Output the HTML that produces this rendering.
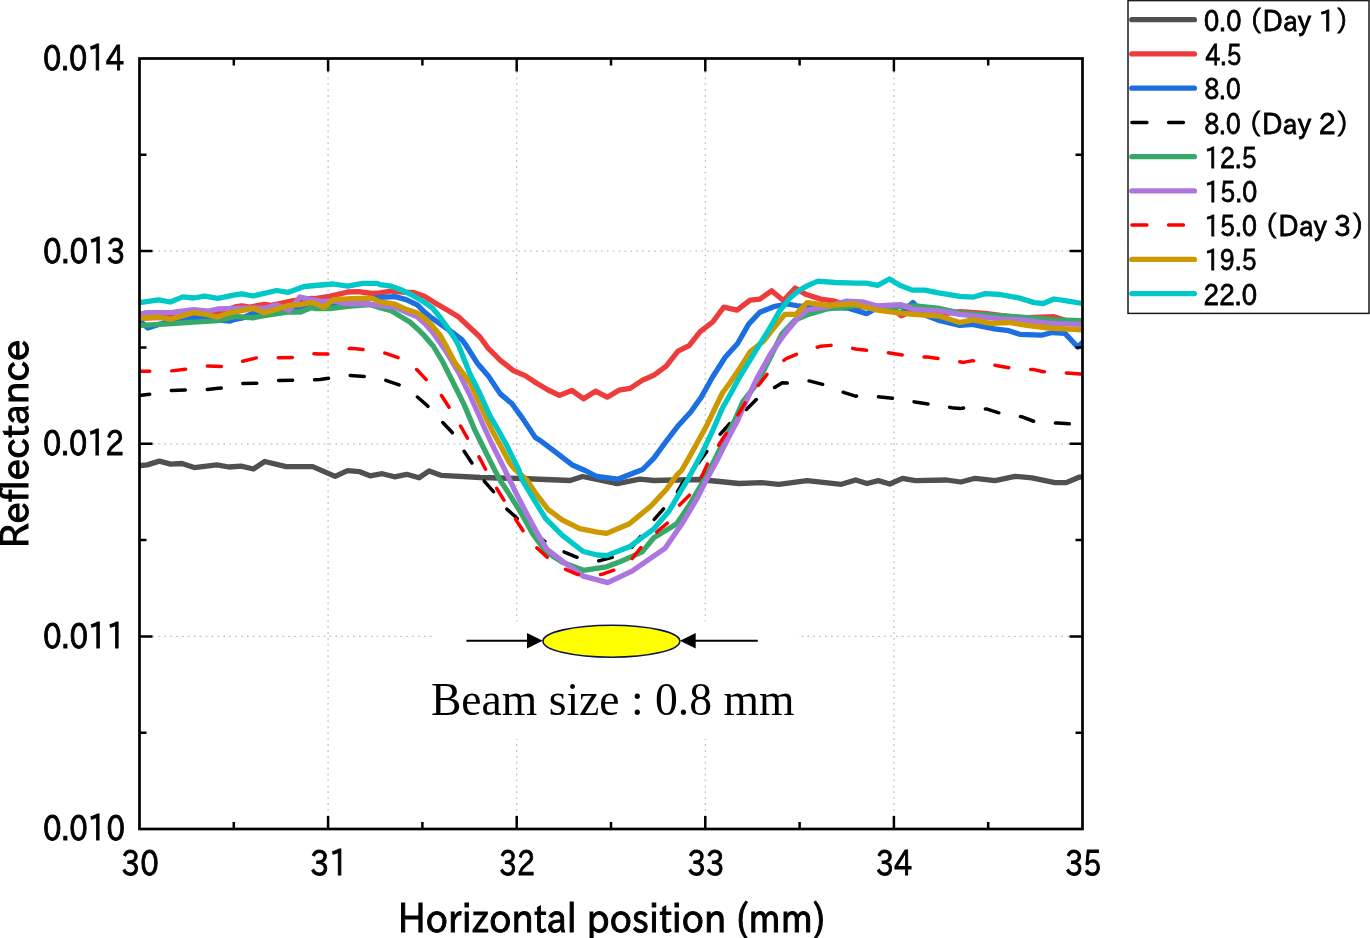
<!DOCTYPE html><html><head><meta charset="utf-8"><title>Reflectance vs horizontal position</title>
<style>html,body{margin:0;padding:0;background:#fff;width:1370px;height:938px;overflow:hidden}svg{display:block}text{font-family:'IPAPGothic','IPAGothic','Liberation Sans',sans-serif}</style></head><body>
<svg width="1370" height="938" viewBox="0 0 1370 938">
<rect width="1370" height="938" fill="#fff"/>
<defs><clipPath id="pc"><rect x="139.5" y="58.5" width="943.0" height="770.5"/></clipPath></defs>
<path d="M328.1 71.5V816.0M516.7 71.5V816.0M705.3 71.5V816.0M893.9 71.5V816.0M152.5 636.4H1069.5M152.5 443.8H1069.5M152.5 251.1H1069.5" stroke="#c2c2c2" stroke-width="1.3" stroke-dasharray="1.8 4.1" fill="none"/>
<g clip-path="url(#pc)" fill="none" stroke-linejoin="round">
<path d="M139.5 465.8 L141.0 465.5 L147.2 464.9 L159.4 461.1 L170.7 464.1 L181.9 463.5 L194.2 467.6 L216.7 464.9 L228.9 467.0 L241.2 466.2 L253.4 469.0 L264.7 461.5 L286.1 466.6 L312.7 466.6 L335.2 476.4 L347.5 470.7 L359.7 471.7 L370.0 475.8 L382.2 473.7 L394.5 476.8 L406.7 474.3 L419.0 477.8 L429.2 470.9 L441.5 475.4 L480.3 477.5 L521.2 478.5 L570.2 480.5 L582.5 476.5 L617.2 483.6 L639.7 479.1 L654.0 480.5 L699.0 479.5 L724.6 482.0 L738.9 483.5 L761.6 482.6 L778.7 484.3 L807.2 480.6 L841.3 484.3 L855.6 480.0 L867.0 483.5 L878.3 480.6 L889.7 484.0 L902.5 478.3 L915.3 480.6 L946.7 480.0 L960.9 482.0 L975.1 478.3 L995.0 480.6 L1015.0 476.3 L1032.0 477.8 L1054.8 482.6 L1066.2 482.6 L1079.0 477.2 L1082.5 477.0" stroke="#505050" stroke-width="5.3" stroke-linecap="round"/>
<path d="M139.5 318.0 L160.0 317.5 L190.0 316.6 L208.0 316.6 L217.8 313.0 L235.0 306.9 L241.6 305.8 L250.0 307.0 L264.2 304.3 L271.5 305.4 L293.4 300.7 L311.6 298.5 L315.0 298.6 L329.6 296.4 L347.8 292.0 L358.8 291.7 L371.9 293.5 L380.0 292.9 L391.2 291.0 L402.4 292.2 L413.6 292.4 L424.8 296.6 L436.0 303.4 L447.2 310.1 L458.4 316.8 L469.6 327.2 L480.0 337.0 L487.8 347.8 L500.3 360.3 L513.7 370.8 L525.2 375.6 L536.7 383.3 L548.2 390.0 L559.4 395.4 L571.9 390.5 L583.7 398.8 L595.5 391.2 L607.2 397.2 L619.0 390.2 L630.1 388.4 L642.6 380.1 L653.7 375.3 L666.2 366.2 L678.0 351.1 L689.1 345.6 L700.2 331.7 L712.7 322.0 L723.8 307.2 L737.0 310.2 L750.1 300.2 L759.8 299.1 L771.6 290.8 L783.4 300.5 L795.2 288.0 L805.6 294.3 L820.8 299.1 L834.7 301.2 L855.5 306.7 L877.6 307.4 L888.7 305.4 L901.2 315.8 L910.9 311.6 L938.6 314.4 L959.9 311.7 L985.0 313.5 L1020.0 318.0 L1054.1 316.7 L1066.0 320.5 L1082.5 324.0" stroke="#ee3b3b" stroke-width="5.3" stroke-linecap="round"/>
<path d="M139.5 322.0 L141.2 322.1 L147.8 328.0 L168.2 321.4 L193.7 317.7 L208.0 319.0 L230.2 321.0 L235.0 319.3 L241.6 318.2 L253.2 313.1 L265.0 313.5 L280.0 311.5 L297.0 308.4 L311.0 306.0 L320.0 303.5 L335.4 303.4 L355.0 301.0 L377.0 297.5 L380.0 297.4 L394.9 296.6 L406.1 299.6 L417.3 304.9 L424.8 312.3 L432.2 318.3 L439.7 323.5 L447.2 328.7 L454.6 334.0 L462.1 339.9 L465.8 345.0 L477.3 363.2 L488.8 376.6 L500.3 393.9 L511.8 403.5 L522.6 418.4 L535.4 437.6 L540.0 440.4 L556.6 452.9 L571.9 464.7 L584.4 470.2 L596.8 476.5 L617.6 479.2 L642.6 469.5 L653.7 458.4 L664.8 443.2 L678.6 425.2 L690.7 412.0 L701.3 397.1 L712.7 376.8 L725.2 357.3 L737.6 343.5 L748.7 324.1 L759.8 312.3 L773.7 306.7 L787.6 304.0 L798.7 306.0 L812.5 307.4 L848.5 308.1 L866.6 313.7 L877.6 307.5 L901.0 313.0 L913.0 302.6 L925.0 315.0 L940.0 320.7 L959.9 325.3 L972.6 324.3 L994.3 328.9 L1008.8 330.7 L1019.7 334.3 L1041.4 335.2 L1052.3 332.5 L1065.0 333.4 L1077.7 347.0 L1082.5 342.5" stroke="#1b6fe0" stroke-width="5.3" stroke-linecap="round"/>
<path d="M139.5 395.5 L141.2 395.3 L152.1 394.0 L169.7 390.6 L187.2 389.8 L206.2 389.5 L216.0 388.5 L221.5 388.0 L241.2 383.6 L258.0 383.2 L277.0 380.5 L293.7 380.2 L312.7 379.8 L320.0 379.5 L329.7 378.1 L350.5 375.4 L365.8 376.5 L385.2 380.2 L399.0 384.8 L415.7 395.5 L427.3 405.6 L441.4 421.0 L452.2 432.5 L463.1 449.8 L472.1 463.2 L484.2 481.1 L493.5 491.7 L505.2 507.6 L516.3 517.5 L530.0 531.0 L545.1 541.6 L565.6 552.7 L580.3 558.6 L599.0 560.9 L613.7 556.8 L630.7 548.7 L653.8 519.9 L664.0 508.4 L676.8 493.0 L681.9 484.1 L699.2 462.1 L707.2 450.9 L720.0 434.4 L730.1 423.2 L746.1 409.8 L757.8 398.1 L773.8 388.0 L782.3 382.7 L789.8 383.2 L809.0 380.9 L825.6 385.1 L844.4 392.7 L855.5 396.2 L861.0 395.5 L880.4 396.9 L897.1 398.9 L915.0 402.0 L935.0 405.0 L951.8 407.7 L959.9 408.6 L967.2 407.3 L987.1 409.1 L1002.5 414.0 L1021.5 416.7 L1036.9 422.5 L1057.8 423.1 L1073.2 424.0 L1082.5 424.0" stroke="#000000" stroke-width="3.5" stroke-linecap="round" stroke-dasharray="14 22" stroke-dashoffset="3.75"/>
<path d="M139.5 325.5 L141.2 325.4 L168.2 323.9 L193.7 322.1 L217.8 320.7 L235.0 316.4 L253.2 317.8 L264.2 315.7 L289.0 312.0 L300.7 312.0 L311.6 307.6 L315.0 308.5 L329.6 308.5 L347.8 306.3 L369.7 304.5 L380.0 307.8 L391.2 310.8 L402.4 317.5 L409.9 322.0 L417.3 328.7 L424.8 336.2 L432.2 345.0 L433.2 346.0 L442.8 362.0 L453.5 383.3 L464.1 404.6 L474.8 430.0 L481.7 444.0 L494.5 469.6 L499.9 480.0 L509.3 494.1 L521.0 512.8 L532.8 533.9 L545.7 551.5 L562.1 562.1 L583.2 570.3 L606.6 566.8 L619.2 562.1 L642.2 551.9 L653.8 537.8 L676.8 523.8 L689.6 504.6 L702.4 482.8 L714.5 459.9 L725.0 438.6 L734.6 420.5 L743.0 401.3 L757.1 383.7 L770.0 358.0 L782.0 333.8 L795.0 320.0 L808.4 314.4 L827.7 308.8 L862.0 305.0 L890.0 307.0 L915.1 306.0 L940.0 308.5 L960.0 313.0 L994.3 315.3 L1021.5 317.1 L1054.1 319.8 L1082.5 320.7" stroke="#36a96a" stroke-width="5.3" stroke-linecap="round"/>
<path d="M139.5 314.2 L141.2 314.1 L146.3 312.6 L170.4 312.6 L193.7 309.7 L208.3 311.2 L217.8 309.0 L235.0 308.4 L250.0 307.8 L264.2 308.4 L277.3 305.1 L289.0 310.2 L300.0 297.0 L311.6 299.6 L323.8 301.5 L333.9 301.0 L344.0 303.5 L370.0 304.0 L380.0 305.6 L394.9 307.1 L409.9 313.8 L417.3 316.8 L424.8 323.5 L432.2 331.7 L439.7 342.2 L446.0 351.3 L458.8 372.6 L469.4 394.0 L479.0 415.3 L485.4 430.0 L491.9 444.0 L504.7 469.6 L516.0 493.0 L526.9 514.0 L536.3 531.6 L546.8 549.2 L562.1 560.9 L583.2 576.1 L607.7 582.6 L632.0 571.1 L665.3 548.1 L681.9 523.8 L697.3 498.2 L706.2 480.2 L717.3 459.9 L728.0 438.6 L737.6 420.5 L746.1 401.3 L757.1 378.1 L770.9 353.2 L784.8 333.8 L798.7 317.1 L806.9 310.2 L827.7 306.7 L845.8 301.2 L862.4 301.9 L877.6 306.0 L901.2 304.7 L913.7 309.5 L940.0 310.8 L959.9 314.4 L976.2 316.2 L999.8 318.9 L1021.5 319.8 L1048.7 323.4 L1082.5 324.3" stroke="#ad76de" stroke-width="5.3" stroke-linecap="round"/>
<path d="M139.5 371.2 L156.0 371.2 L170.8 371.0 L186.8 369.0 L206.5 366.1 L222.5 366.5 L241.6 361.5 L258.0 357.5 L278.0 357.8 L294.0 357.5 L313.8 353.7 L320.0 353.9 L330.0 353.9 L350.5 348.3 L365.8 349.7 L385.2 353.2 L399.0 358.0 L417.0 369.8 L426.8 380.2 L441.4 395.4 L449.7 408.2 L460.6 426.1 L468.2 439.5 L478.0 455.0 L486.0 470.0 L497.0 488.8 L505.2 502.3 L515.2 518.7 L524.0 532.2 L535.7 546.8 L548.0 558.0 L566.2 569.7 L577.3 574.4 L590.0 575.0 L601.9 574.3 L616.6 569.2 L631.4 559.6 L641.0 547.4 L658.9 530.1 L669.7 521.2 L678.1 506.5 L690.9 493.7 L702.4 474.9 L708.8 461.0 L719.4 443.9 L728.0 430.6 L739.7 412.0 L750.0 395.0 L761.0 382.1 L769.5 371.2 L786.2 358.7 L800.7 352.5 L820.1 346.3 L836.7 344.9 L855.5 349.0 L872.8 351.1 L891.5 353.2 L908.1 356.0 L927.6 357.1 L944.2 359.4 L963.6 362.4 L972.6 360.6 L979.0 362.4 L998.9 366.0 L1014.3 368.7 L1034.2 369.6 L1043.3 371.8 L1050.5 371.4 L1070.4 373.3 L1082.5 374.2" stroke="#ff0000" stroke-width="3.5" stroke-linecap="round" stroke-dasharray="14 22" stroke-dashoffset="3.75"/>
<path d="M139.5 318.2 L141.2 318.1 L157.2 317.0 L170.4 319.2 L193.7 312.6 L206.2 314.5 L217.8 317.0 L230.2 312.6 L235.0 312.0 L253.2 308.4 L264.9 312.7 L289.0 305.4 L300.7 304.7 L311.6 302.5 L315.0 303.4 L323.8 307.4 L333.2 299.7 L351.5 298.6 L371.9 298.2 L380.0 301.9 L394.9 304.1 L406.1 309.3 L417.3 313.1 L424.8 318.3 L432.2 325.7 L439.7 334.7 L445.7 345.0 L454.5 362.0 L470.5 383.3 L480.1 404.6 L491.8 430.0 L499.6 444.0 L509.8 463.2 L515.0 469.6 L526.9 480.0 L536.3 494.1 L548.0 509.3 L562.1 519.9 L579.7 528.7 L597.3 532.2 L606.6 533.4 L629.4 523.8 L651.2 505.8 L666.5 489.2 L676.8 475.1 L681.9 470.0 L690.7 454.6 L706.6 425.8 L715.2 407.7 L722.6 392.8 L729.3 383.7 L740.4 367.1 L750.1 351.8 L764.0 340.7 L773.7 328.2 L784.8 314.4 L795.9 314.4 L807.0 302.6 L827.7 305.4 L854.1 304.0 L877.6 310.2 L894.3 312.3 L913.7 314.4 L940.0 316.2 L959.9 322.5 L972.6 319.8 L990.7 323.4 L1008.8 322.5 L1027.0 325.3 L1048.7 328.0 L1082.5 329.8" stroke="#cc9900" stroke-width="5.3" stroke-linecap="round"/>
<path d="M139.5 302.5 L141.2 302.4 L158.7 299.9 L170.4 302.0 L182.8 296.9 L193.7 298.0 L204.7 296.2 L217.8 298.4 L235.0 294.9 L241.6 293.8 L253.2 296.0 L276.6 290.5 L288.3 292.3 L304.3 286.5 L315.0 285.5 L333.2 284.0 L347.8 286.2 L362.4 283.3 L377.0 283.3 L380.0 284.7 L391.2 286.2 L402.4 290.3 L413.6 295.9 L424.8 302.6 L432.2 307.8 L439.7 316.8 L447.2 327.2 L454.6 338.4 L458.4 345.0 L469.4 372.6 L480.1 394.0 L489.7 415.3 L498.2 430.0 L506.0 444.0 L518.8 469.6 L522.2 480.0 L532.8 497.6 L545.7 518.7 L562.1 535.1 L583.2 551.5 L597.3 555.0 L606.6 555.6 L629.4 546.8 L653.8 528.9 L669.1 511.0 L681.9 489.2 L687.5 480.0 L701.3 454.6 L712.0 432.2 L722.6 407.7 L731.2 392.8 L739.0 378.1 L754.3 353.2 L768.1 331.0 L779.2 311.6 L790.3 297.7 L798.7 290.8 L807.0 285.9 L818.0 281.1 L834.7 282.5 L855.5 283.2 L866.0 283.2 L877.6 285.3 L889.4 279.0 L899.8 285.3 L912.3 290.1 L924.8 290.1 L938.6 292.9 L959.9 296.3 L972.6 297.2 L985.3 293.6 L999.8 294.5 L1019.7 298.1 L1034.2 302.6 L1043.3 303.5 L1054.1 299.0 L1066.8 300.8 L1082.5 303.5" stroke="#00c8c8" stroke-width="5.3" stroke-linecap="round"/>
</g>
<rect x="432.6" y="621.5" width="364.4" height="117.5" fill="#fff"/>
<path d="M466.4 640.8H530" stroke="#000" stroke-width="2"/>
<path d="M527 632.9L542.7 640.8L527 648.6Z" fill="#000"/>
<path d="M695 640.8H757.8" stroke="#000" stroke-width="2"/>
<path d="M695.7 632.9L680 640.8L695.7 648.6Z" fill="#000"/>
<ellipse cx="611.4" cy="641.2" rx="68.4" ry="16" fill="#ffff00" stroke="#0a1450" stroke-width="1.6"/>
<text transform="matrix(0.9915 0.0000 0.0000 0.9903 430.9085 714.8000)" font-size="46" style="font-family:&#39;Liberation Serif&#39;,serif">Beam size : 0.8 mm</text>
<path d="M233.8 829.0V822.0M233.8 58.5V65.5M328.1 829.0V816.0M328.1 58.5V71.5M422.4 829.0V822.0M422.4 58.5V65.5M516.7 829.0V816.0M516.7 58.5V71.5M611.0 829.0V822.0M611.0 58.5V65.5M705.3 829.0V816.0M705.3 58.5V71.5M799.6 829.0V822.0M799.6 58.5V65.5M893.9 829.0V816.0M893.9 58.5V71.5M988.2 829.0V822.0M988.2 58.5V65.5M139.5 732.7H146.5M1082.5 732.7H1075.5M139.5 636.4H152.5M1082.5 636.4H1069.5M139.5 540.1H146.5M1082.5 540.1H1075.5M139.5 443.8H152.5M1082.5 443.8H1069.5M139.5 347.4H146.5M1082.5 347.4H1075.5M139.5 251.1H152.5M1082.5 251.1H1069.5M139.5 154.8H146.5M1082.5 154.8H1075.5" stroke="#000" stroke-width="2.5" fill="none"/>
<rect x="139.5" y="58.5" width="943.0" height="770.5" fill="none" stroke="#000" stroke-width="2.7"/>
<text transform="matrix(0.8333 0.0000 0.0000 0.9846 42.9667 69.9154)" font-size="35" style="font-family:&#39;IPAPGothic&#39;,&#39;IPAGothic&#39;,&#39;Liberation Sans&#39;,sans-serif" stroke="#000" stroke-width="1.00">0.014</text>
<text transform="matrix(0.8468 0.0000 0.0000 0.9846 42.9532 262.5404)" font-size="35" style="font-family:&#39;IPAPGothic&#39;,&#39;IPAGothic&#39;,&#39;Liberation Sans&#39;,sans-serif" stroke="#000" stroke-width="1.00">0.013</text>
<text transform="matrix(0.8316 0.0000 0.0000 0.9846 42.9684 455.1654)" font-size="35" style="font-family:&#39;IPAPGothic&#39;,&#39;IPAGothic&#39;,&#39;Liberation Sans&#39;,sans-serif" stroke="#000" stroke-width="1.00">0.012</text>
<text transform="matrix(0.8466 0.0000 0.0000 0.9846 42.9534 647.7904)" font-size="35" style="font-family:&#39;IPAPGothic&#39;,&#39;IPAGothic&#39;,&#39;Liberation Sans&#39;,sans-serif" stroke="#000" stroke-width="1.00">0.011</text>
<text transform="matrix(0.8421 0.0000 0.0000 0.9846 42.9579 840.4154)" font-size="35" style="font-family:&#39;IPAPGothic&#39;,&#39;IPAGothic&#39;,&#39;Liberation Sans&#39;,sans-serif" stroke="#000" stroke-width="1.00">0.010</text>
<text transform="matrix(0.8429 0.0000 0.0000 0.9577 121.5571 875.2423)" font-size="35" style="font-family:&#39;IPAPGothic&#39;,&#39;IPAGothic&#39;,&#39;Liberation Sans&#39;,sans-serif" stroke="#000" stroke-width="1.00">30</text>
<text transform="matrix(0.8657 0.0000 0.0000 0.9577 310.2343 875.2423)" font-size="35" style="font-family:&#39;IPAPGothic&#39;,&#39;IPAGothic&#39;,&#39;Liberation Sans&#39;,sans-serif" stroke="#000" stroke-width="1.00">31</text>
<text transform="matrix(0.8095 0.0000 0.0000 0.9577 499.1905 875.2423)" font-size="35" style="font-family:&#39;IPAPGothic&#39;,&#39;IPAGothic&#39;,&#39;Liberation Sans&#39;,sans-serif" stroke="#000" stroke-width="1.00">32</text>
<text transform="matrix(0.8415 0.0000 0.0000 0.9577 687.5585 875.2423)" font-size="35" style="font-family:&#39;IPAPGothic&#39;,&#39;IPAGothic&#39;,&#39;Liberation Sans&#39;,sans-serif" stroke="#000" stroke-width="1.00">33</text>
<text transform="matrix(0.8214 0.0000 0.0000 0.9577 875.8786 875.2423)" font-size="35" style="font-family:&#39;IPAPGothic&#39;,&#39;IPAGothic&#39;,&#39;Liberation Sans&#39;,sans-serif" stroke="#000" stroke-width="1.00">34</text>
<text transform="matrix(0.8220 0.0000 0.0000 0.9577 1065.1780 875.2423)" font-size="35" style="font-family:&#39;IPAPGothic&#39;,&#39;IPAGothic&#39;,&#39;Liberation Sans&#39;,sans-serif" stroke="#000" stroke-width="1.00">35</text>
<text transform="matrix(0.9236 0.0000 0.0000 0.9897 398.0291 932.2000)" font-size="40" style="font-family:&#39;IPAPGothic&#39;,&#39;IPAGothic&#39;,&#39;Liberation Sans&#39;,sans-serif" stroke="#000" stroke-width="1.00">Horizontal position (mm)</text>
<text transform="translate(0.5 544.9) rotate(-90) matrix(0.9941 0.0000 0.0000 0.9964 -2.9824 27.9000)" font-size="38" style="font-family:&#39;IPAPGothic&#39;,&#39;IPAGothic&#39;,&#39;Liberation Sans&#39;,sans-serif" stroke="#000" stroke-width="1.00">Reflectance</text>
<rect x="1128" y="0.6" width="241" height="312.8" fill="#fff" stroke="#1a1a1a" stroke-width="1.5"/>
<path d="M1131.8 19.7H1194.4" stroke="#505050" stroke-width="5.3" stroke-linecap="round"/>
<text transform="matrix(0.8878 0.0000 0.0000 1.0000 1203.7122 30.9000)" font-size="28" style="font-family:&#39;IPAPGothic&#39;,&#39;IPAGothic&#39;,&#39;Liberation Sans&#39;,sans-serif" stroke="#000" stroke-width="0.80">0.0</text>
<text transform="matrix(0.9646 0.0000 0.0000 1.0000 1247.6771 30.9000)" font-size="28" style="font-family:&#39;IPAPGothic&#39;,&#39;IPAGothic&#39;,&#39;Liberation Sans&#39;,sans-serif" stroke="#000" stroke-width="0.80">（Day 1）</text>
<path d="M1131.8 53.9H1194.4" stroke="#ee3b3b" stroke-width="5.3" stroke-linecap="round"/>
<text transform="matrix(0.8561 0.0000 0.0000 1.0000 1205.2000 65.1000)" font-size="28" style="font-family:&#39;IPAPGothic&#39;,&#39;IPAGothic&#39;,&#39;Liberation Sans&#39;,sans-serif" stroke="#000" stroke-width="0.80">4.5</text>
<path d="M1131.8 88.2H1194.4" stroke="#1b6fe0" stroke-width="5.3" stroke-linecap="round"/>
<text transform="matrix(0.8610 0.0000 0.0000 1.0000 1204.1390 99.3000)" font-size="28" style="font-family:&#39;IPAPGothic&#39;,&#39;IPAGothic&#39;,&#39;Liberation Sans&#39;,sans-serif" stroke="#000" stroke-width="0.80">8.0</text>
<path d="M1131.9 122.4H1194" stroke="#000000" stroke-width="3.5" stroke-linecap="round" stroke-dasharray="15 21.6"/>
<text transform="matrix(0.8610 0.0000 0.0000 1.0000 1204.1390 133.5000)" font-size="28" style="font-family:&#39;IPAPGothic&#39;,&#39;IPAGothic&#39;,&#39;Liberation Sans&#39;,sans-serif" stroke="#000" stroke-width="0.80">8.0</text>
<text transform="matrix(0.9760 0.0000 0.0000 1.0000 1246.9198 133.5000)" font-size="28" style="font-family:&#39;IPAPGothic&#39;,&#39;IPAGothic&#39;,&#39;Liberation Sans&#39;,sans-serif" stroke="#000" stroke-width="0.80">（Day 2）</text>
<path d="M1131.8 156.7H1194.4" stroke="#36a96a" stroke-width="5.3" stroke-linecap="round"/>
<text transform="matrix(0.8679 0.0000 0.0000 1.0000 1204.4964 167.7000)" font-size="28" style="font-family:&#39;IPAPGothic&#39;,&#39;IPAGothic&#39;,&#39;Liberation Sans&#39;,sans-serif" stroke="#000" stroke-width="0.80">12.5</text>
<path d="M1131.8 190.9H1194.4" stroke="#ad76de" stroke-width="5.3" stroke-linecap="round"/>
<text transform="matrix(0.8768 0.0000 0.0000 1.0000 1204.4696 201.9000)" font-size="28" style="font-family:&#39;IPAPGothic&#39;,&#39;IPAGothic&#39;,&#39;Liberation Sans&#39;,sans-serif" stroke="#000" stroke-width="0.80">15.0</text>
<path d="M1131.9 225.1H1194" stroke="#ff0000" stroke-width="3.5" stroke-linecap="round" stroke-dasharray="15 21.6"/>
<text transform="matrix(0.8732 0.0000 0.0000 1.0000 1204.4804 236.1000)" font-size="28" style="font-family:&#39;IPAPGothic&#39;,&#39;IPAGothic&#39;,&#39;Liberation Sans&#39;,sans-serif" stroke="#000" stroke-width="0.80">15.0</text>
<text transform="matrix(0.9677 0.0000 0.0000 1.0000 1263.2615 236.1000)" font-size="28" style="font-family:&#39;IPAPGothic&#39;,&#39;IPAGothic&#39;,&#39;Liberation Sans&#39;,sans-serif" stroke="#000" stroke-width="0.80">（Day 3）</text>
<path d="M1131.8 259.4H1194.4" stroke="#cc9900" stroke-width="5.3" stroke-linecap="round"/>
<text transform="matrix(0.8679 0.0000 0.0000 1.0000 1204.4964 270.3000)" font-size="28" style="font-family:&#39;IPAPGothic&#39;,&#39;IPAGothic&#39;,&#39;Liberation Sans&#39;,sans-serif" stroke="#000" stroke-width="0.80">19.5</text>
<path d="M1131.8 293.6H1194.4" stroke="#00c8c8" stroke-width="5.3" stroke-linecap="round"/>
<text transform="matrix(0.8965 0.0000 0.0000 1.0000 1203.2070 304.5000)" font-size="28" style="font-family:&#39;IPAPGothic&#39;,&#39;IPAGothic&#39;,&#39;Liberation Sans&#39;,sans-serif" stroke="#000" stroke-width="0.80">22.0</text>
</svg></body></html>
